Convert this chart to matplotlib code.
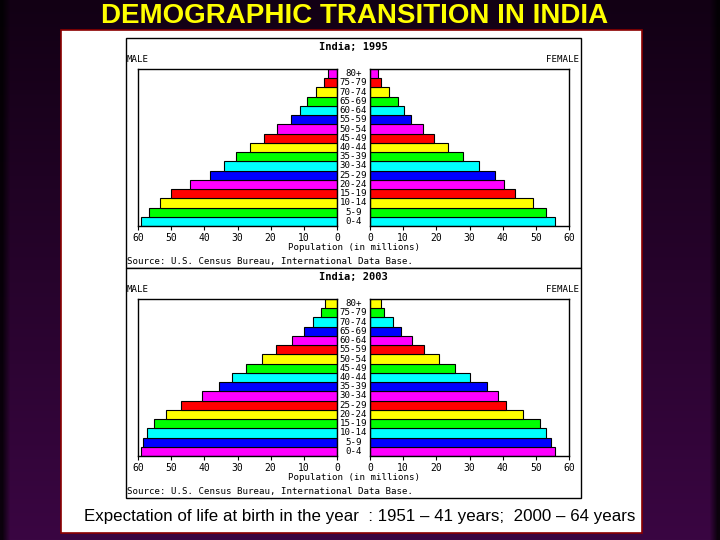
import numpy as np
import matplotlib
matplotlib.use("Agg")
import matplotlib.pyplot as plt
from matplotlib.patches import Rectangle

ages = ["0-4", "5-9", "10-14", "15-19", "20-24", "25-29", "30-34", "35-39",
        "40-44", "45-49", "50-54", "55-59", "60-64", "65-69", "70-74", "75-79", "80+"]

male_1995 = [59.2, 56.8, 53.3, 50.0, 44.2, 38.3, 34.1, 30.4, 26.1, 22.0, 18.0, 13.9, 11.2, 8.9, 6.2, 3.9, 2.6]
female_1995 = [55.8, 53.1, 49.1, 43.7, 40.3, 37.8, 33.0, 28.0, 23.5, 19.2, 15.9, 12.4, 10.2, 8.4, 5.6, 3.3, 2.3]
male_2003 = [59.0, 58.5, 57.2, 55.1, 51.5, 46.9, 40.8, 35.6, 31.6, 27.3, 22.5, 18.3, 13.6, 9.9, 7.3, 4.8, 3.5]
female_2003 = [55.9, 54.6, 53.1, 51.2, 46.1, 41.1, 38.7, 35.4, 30.1, 25.5, 20.7, 16.4, 12.6, 9.4, 6.8, 4.1, 3.2]

cycle_1995 = ["#00FFFF", "#00FF00", "#FFFF00", "#FF0000", "#FF00FF", "#0000FF"]
cycle_2003 = ["#FF00FF", "#0000FF", "#00FFFF", "#00FF00", "#FFFF00", "#FF0000"]

ticks = [0, 10, 20, 30, 40, 50, 60]
title = "DEMOGRAPHIC TRANSITION IN INDIA"
footer = "Expectation of life at birth in the year  : 1951 \u2013 41 years;  2000 \u2013 64 years"

W, H = 720, 540
fig = plt.figure(figsize=(7.2, 5.4), dpi=100)


def px_rect(x0, y0, x1, y1):
    # pixel box (top-left origin) -> figure fraction rect
    return [x0 / W, 1 - y1 / H, (x1 - x0) / W, (y1 - y0) / H]


def ftext(x, y, s, **kw):
    fig.text(x / W, 1 - y / H, s, **kw)


# background gradient
bg = fig.add_axes([0, 0, 1, 1])
bg.set_zorder(-5)
t = np.linspace(0, 1, H)[:, None]
xs = np.arange(W)[None, :]
edge = np.clip(np.minimum(xs, W - 1 - xs) / 10.0, 0.2, 1.0)
top = np.array([18, 0, 20]) / 255
bot = np.array([58, 6, 66]) / 255
img = (top[None, None, :] * (1 - t[..., None]) + bot[None, None, :] * t[..., None]) * edge[..., None]
bg.imshow(img, aspect="auto", extent=[0, 1, 0, 1])
bg.set_axis_off()

# white sheet
fig.patches.append(Rectangle((61 / W, 1 - 533 / H), 581 / W, 503 / H, transform=fig.transFigure,
                             facecolor="white", edgecolor="#8B0000", linewidth=1.2, zorder=1))

ftext(355, 16, title, color="#FFFF00", fontsize=20, fontweight="bold",
      family="Liberation Sans", ha="center", va="center")
ftext(360, 516, footer, color="black", fontsize=12.2, family="Liberation Sans",
      ha="center", va="center", zorder=5)

mono = "DejaVu Sans Mono"
fs = 6.6


def panel(top_px, year, male, female, cycle):
    fig.patches.append(Rectangle((126 / W, 1 - (top_px + 230) / H), 455 / W, 230 / H,
                                 transform=fig.transFigure, facecolor="white",
                                 edgecolor="black", linewidth=1.0, zorder=2))
    cols = [cycle[i % len(cycle)] for i in range(len(ages))]
    y = np.arange(len(ages))
    axm = fig.add_axes(px_rect(138, top_px + 31, 337, top_px + 188))
    axf = fig.add_axes(px_rect(370, top_px + 31, 569, top_px + 188))
    axm.barh(y, male, height=1.0, color=cols, edgecolor="black", linewidth=0.8)
    axf.barh(y, female, height=1.0, color=cols, edgecolor="black", linewidth=0.8)
    axm.set_xlim(60, 0)
    axf.set_xlim(0, 60)
    for ax in (axm, axf):
        ax.set_zorder(4)
        ax.set_ylim(-0.5, len(ages) - 0.5)
        ax.set_yticks([])
        ax.set_xticks(ticks)
        ax.tick_params(axis="x", length=3, width=0.8, pad=2, labelsize=7)
        for lab in ax.get_xticklabels():
            lab.set_family(mono)
        for sp in ax.spines.values():
            sp.set_linewidth(1.0)
    for i, a in enumerate(ages):
        yy = top_px + 31 + (len(ages) - 0.5 - i) * 157 / len(ages)
        ftext(353.5, yy, a, fontsize=fs, family=mono, ha="center", va="center", zorder=5)
    ftext(353.5, top_px + 9, "India; %d" % year, fontsize=7.5, family=mono,
          fontweight="bold", ha="center", va="center", zorder=5)
    ftext(127, top_px + 21, "MALE", fontsize=fs, family=mono, ha="left", va="center", zorder=5)
    ftext(579, top_px + 21, "FEMALE", fontsize=fs, family=mono, ha="right", va="center", zorder=5)
    ftext(353.5, top_px + 209.5, "Population (in millions)", fontsize=fs, family=mono,
          ha="center", va="center", zorder=5)
    ftext(127, top_px + 223.5, "Source: U.S. Census Bureau, International Data Base.",
          fontsize=fs, family=mono, ha="left", va="center", zorder=5)


panel(38, 1995, male_1995, female_1995, cycle_1995)
panel(268, 2003, male_2003, female_2003, cycle_2003)

fig.savefig("out.png", dpi=100)
